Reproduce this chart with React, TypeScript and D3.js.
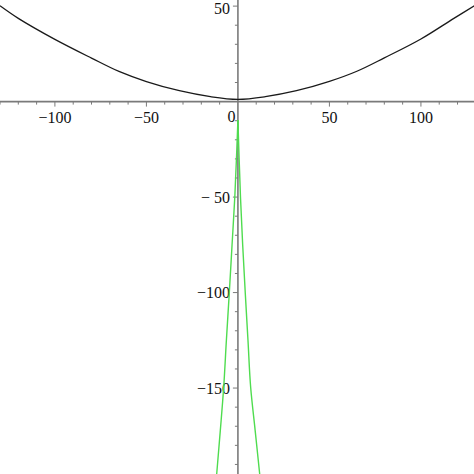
import React, { useEffect, useRef } from 'react';
import * as d3 from 'd3';

// black curve
const curveX = [-130, -120, -100, -80, -65, -50, -32, -15, 0, 15, 32, 50, 65, 80, 100, 118, 130];
const curveY = [50.2, 43.6, 32.6, 22.8, 15.8, 10.5, 5.7, 2.6, 1.2, 2.6, 5.7, 10.6, 15.9, 22.9, 32.8, 43.6, 50.6];

// green branches
const leftX = [0, -0.6, -1.7, -3.2, -4.7, -6.3, -7.8, -9.6, -11.6];
const leftY = [-9.6, -25, -50, -75, -100, -125, -150, -172, -195];
const rightX = [0, 0.5, 1.4, 2.6, 4.0, 5.5, 7.0, 9.4, 11.9];
const rightY = [-9.6, -25, -50, -75, -100, -125, -150, -172, -195];

const xMinor = [-130, -120, -110, -90, -80, -70, -60, -40, -30, -20, -10, 10, 20, 30, 40, 60, 70, 80, 90, 110, 120];
const xMajor = [-100, -50, 50, 100];
const xLabels = ['\u2212100', '\u221250', '50', '100'];
const yMinor = [40, 30, 20, 10, -10, -20, -30, -40, -60, -70, -80, -90, -110, -120, -130, -140, -160, -170, -180, -190];
const yMajor = [50, -50, -100, -150];
const yLabels = ['50', '\u2212 50', '\u2212100', '\u2212150'];

const W = 474;
const H = 474;
const FONT = '"Liberation Serif", "DejaVu Serif", serif';

export default function App() {
  const svgRef = useRef<SVGSVGElement>(null);

  useEffect(() => {
    if (!svgRef.current) return;
    const svg = d3.select(svgRef.current);
    svg.selectAll('*').remove();

    const x = d3.scaleLinear().domain([-130, 129]).range([0, W]);
    const y = d3.scaleLinear().domain([-195, 53.2]).range([H, 0]);

    const axisColor = '#7a7a7a';

    // axis lines
    svg.append('line')
      .attr('x1', 0).attr('x2', W)
      .attr('y1', y(0)).attr('y2', y(0))
      .attr('stroke', axisColor).attr('stroke-width', 1.6);
    svg.append('line')
      .attr('x1', x(0)).attr('x2', x(0))
      .attr('y1', 0).attr('y2', H)
      .attr('stroke', axisColor).attr('stroke-width', 1.6);

    // x ticks
    const xt = svg.append('g').attr('stroke', axisColor).attr('stroke-width', 1);
    xMinor.forEach(v => {
      xt.append('line').attr('x1', x(v)).attr('x2', x(v))
        .attr('y1', y(0)).attr('y2', y(0) + 3);
    });
    xMajor.forEach(v => {
      xt.append('line').attr('x1', x(v)).attr('x2', x(v))
        .attr('y1', y(0)).attr('y2', y(0) + 5);
    });

    // y ticks
    const yt = svg.append('g').attr('stroke', axisColor).attr('stroke-width', 1);
    yMinor.forEach(v => {
      yt.append('line').attr('x1', x(0) - 3).attr('x2', x(0))
        .attr('y1', y(v)).attr('y2', y(v));
    });
    yMajor.forEach(v => {
      yt.append('line').attr('x1', x(0) - 5).attr('x2', x(0))
        .attr('y1', y(v)).attr('y2', y(v));
    });

    const labels = svg.append('g')
      .attr('font-family', FONT)
      .attr('font-size', 16)
      .attr('fill', '#111');

    xMajor.forEach((v, i) => {
      labels.append('text')
        .attr('x', x(v))
        .attr('y', y(0) + 21.5)
        .attr('text-anchor', 'middle')
        .text(xLabels[i]);
    });
    labels.append('text')
      .attr('x', x(0) - 6.5)
      .attr('y', y(0) + 20.5)
      .attr('text-anchor', 'middle')
      .text('0');

    yMajor.forEach((v, i) => {
      labels.append('text')
        .attr('x', x(0) - 8)
        .attr('y', Math.max(y(v), 9))
        .attr('dy', '0.34em')
        .attr('text-anchor', 'end')
        .text(yLabels[i]);
    });

    const line = d3.line<[number, number]>()
      .x(d => x(d[0]))
      .y(d => y(d[1]))
      .curve(d3.curveCatmullRom);

    const curve = curveX.map((v, i) => [v, curveY[i]] as [number, number]);
    svg.append('path')
      .datum(curve)
      .attr('d', line)
      .attr('fill', 'none')
      .attr('stroke', '#1a1a1a')
      .attr('stroke-width', 1.3);

    const branch = d3.line<[number, number]>()
      .x(d => x(d[0]))
      .y(d => y(d[1]))
      .curve(d3.curveMonotoneY);

    [[leftX, leftY], [rightX, rightY]].forEach(([bx, by]) => {
      svg.append('path')
        .datum(bx.map((v, i) => [v, by[i]] as [number, number]))
        .attr('d', branch)
        .attr('fill', 'none')
        .attr('stroke', '#4fdc4f')
        .attr('stroke-width', 1.4);
    });
  }, []);

  return (
    <svg
      ref={svgRef}
      width={W}
      height={H}
      style={{ position: 'absolute', left: 0, top: 0, background: '#fff' }}
    />
  );
}
